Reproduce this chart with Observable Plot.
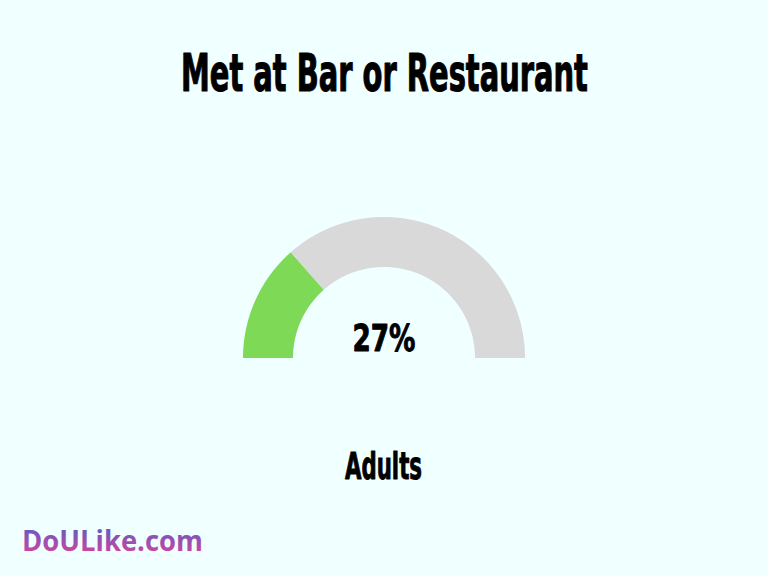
<!DOCTYPE html>
<html>
<head>
<meta charset="utf-8">
<script src="https://cdn.jsdelivr.net/npm/d3@7"></script>
<script src="https://cdn.jsdelivr.net/npm/@observablehq/plot@0.6"></script>
<style>
  html, body { margin: 0; padding: 0; background: #f0ffff; }
  #page { position: relative; width: 768px; height: 576px; background: #f0ffff; overflow: hidden; }
  #gauge { position: absolute; left: 241px; top: 215px; }
  #overlay { position: absolute; left: 0; top: 0; }
</style>
</head>
<body>
<div id="page">
  <div id="gauge"></div>
</div>
<script>
// ---- data ----
const title = "Met at Bar or Restaurant";
const groupLabel = "Adults";
const value = 27;            // percent
const segmentNames = ["Met", "Other"];
const segmentColors = ["#7ed957", "#d9d9d9"];
const brand = "DoULike.com";

// ---- gauge geometry from value ----
const innerRatio = 91 / 141;
const segments = [
  {name: segmentNames[0], from: 0, to: value},
  {name: segmentNames[1], from: value, to: 100}
];
const pts = [];
for (const s of segments) {
  const N = 120;
  for (let i = 0; i <= N; i++) {
    const v = s.from + (s.to - s.from) * i / N;
    const a = Math.PI * (1 - v / 100);
    pts.push({
      seg: s.name,
      xo: Math.cos(a), yo: Math.sin(a),
      xi: innerRatio * Math.cos(a), yi: innerRatio * Math.sin(a)
    });
  }
}

const fontNarrow = "'Liberation Sans Narrow', 'DejaVu Sans Condensed', 'Roboto', sans-serif";

const chart = Plot.plot({
  width: 286,
  height: 145,
  margin: 2,
  x: {domain: [-1, 1], axis: null},
  y: {domain: [0, 1], axis: null},
  color: {domain: segmentNames, range: segmentColors},
  style: {background: "transparent", overflow: "visible"},
  marks: [
    Plot.area(pts, {x1: "xo", y1: "yo", x2: "xi", y2: "yi", z: "seg", fill: "seg", curve: "linear"})
  ]
});
document.getElementById("gauge").appendChild(chart);

// ---- text overlay ----
const svg = d3.select("#page").append("svg")
  .attr("id", "overlay").attr("width", 768).attr("height", 576)
  .style("pointer-events", "none");

const defs = svg.append("defs");
const grad = defs.append("linearGradient").attr("id", "brandGrad")
  .attr("x1", 0).attr("y1", 0).attr("x2", 0).attr("y2", 1);
grad.append("stop").attr("offset", "0%").attr("stop-color", "#4262cc");
grad.append("stop").attr("offset", "100%").attr("stop-color", "#ea3f97");

// text fitted to a target width by horizontal scaling
function fitted(str, cx, baseline, size, targetW, opts = {}) {
  const g = svg.append("g");
  const t = g.append("text")
    .attr("x", 0).attr("y", 0)
    .attr("text-anchor", opts.anchor || "middle")
    .attr("font-family", opts.family || fontNarrow)
    .attr("font-weight", "bold").attr("font-size", size)
    .attr("fill", opts.fill || "#000")
    .text(str);
  if (opts.stroke) t.attr("stroke", "#000").attr("stroke-width", opts.stroke).attr("stroke-linejoin", "round");
  const w = t.node().getComputedTextLength();
  const s = targetW / w;
  g.attr("transform", `translate(${cx},${baseline}) scale(${s},1)`);
  return t;
}

fitted(title, 384.5, 91, 51, 407, {stroke: 1.1});
fitted(groupLabel, 383.5, 479, 37, 77, {stroke: 0.9});
fitted(`${value}%`, 384, 351, 37, 63, {stroke: 0.9});
fitted(brand, 22, 551, 29, 181, {anchor: "start", family: "'Open Sans', 'Noto Sans', sans-serif", fill: "url(#brandGrad)"});
</script>
</body>
</html>
